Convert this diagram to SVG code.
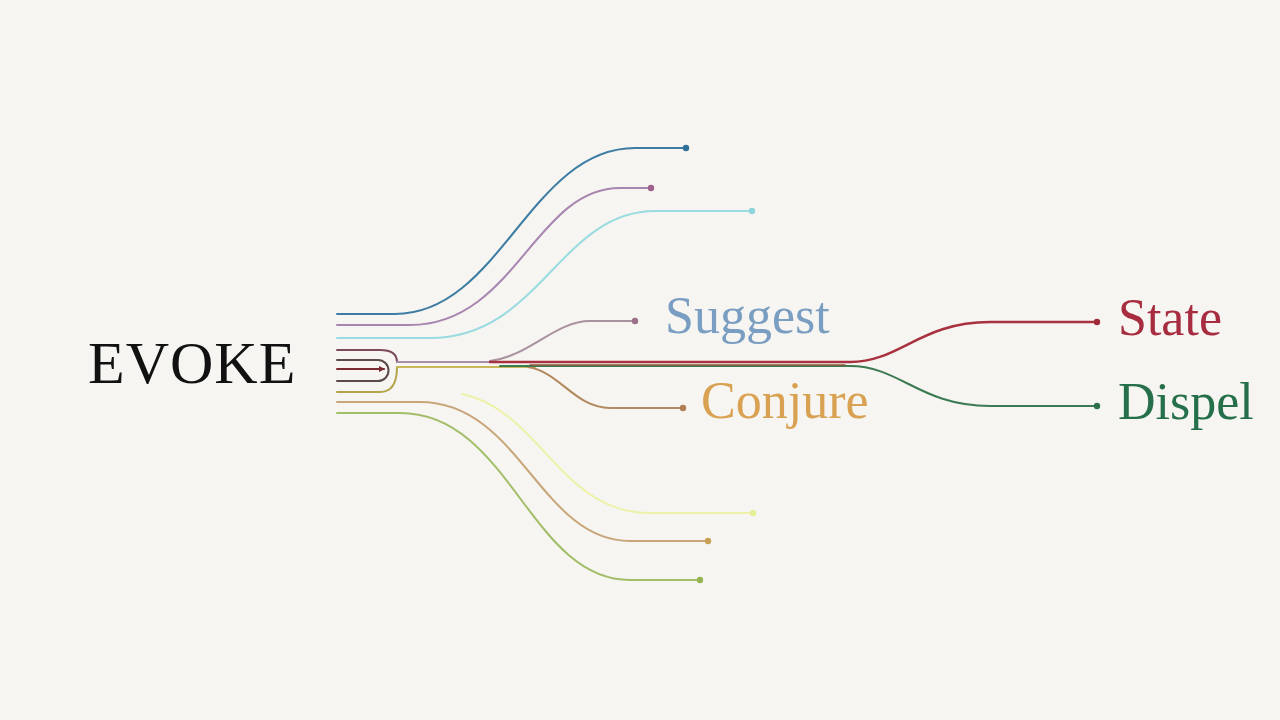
<svg xmlns="http://www.w3.org/2000/svg" width="1280" height="720" viewBox="0 0 1280 720">
<style>
.ln{fill:none;stroke-width:2;stroke-linecap:round;stroke-linejoin:round}
.lbl{font-family:"Liberation Serif","DejaVu Serif",serif;font-size:52px}
</style>
<defs>
<marker id="arr" viewBox="0 0 6 6" refX="5" refY="3" markerWidth="3" markerHeight="3" orient="auto"><path d="M0,0 L6,3 L0,6 z" fill="#7a2a30"/></marker>
</defs>
<rect width="1280" height="720" fill="#f6f5f1"/>
<g id="connectors">
<path class="ln" stroke="#3d7da3" d="M337,314 H395 C500,314 530,148 635,148 H685"/>
<path class="ln" stroke="#a886b0" d="M337,325 H410 C515,325 535,188 620,188 H651"/>
<path class="ln" stroke="#98dbe0" d="M337,338 H430 C540,338 560,211 655,211 H752"/>
<path class="ln" stroke="#c9a57a" d="M337,402 H420 C520,402 540,541 630,541 H708"/>
<path class="ln" stroke="#a3bd68" d="M337,413 H400 C510,413 530,580 630,580 H700"/>
<path class="ln" stroke="#eef1a8" d="M462,394 C540,410 560,513 650,513 H753"/>
<path class="ln" stroke="#7e4a5a" d="M337,350 H380 Q397,350 397,362"/>
<path class="ln" stroke="#b3a64a" d="M337,392 H380 Q397,392 397,367"/>
<path class="ln" stroke="#5a4a48" d="M337,360 H378 A10.5,10.5 0 0 1 378,381 H337"/>
<path class="ln" stroke="#7a2a30" d="M337,369 H384" marker-end="url(#arr)"/>
<path class="ln" stroke="#a98ea8" d="M397,362 H490"/>
<path class="ln" stroke="#c8b858" d="M397,367 H535"/>
<path class="ln" stroke="#a9919f" d="M490,361 C530,356 555,321 590,321 H634"/>
<path class="ln" stroke="#b38a60" d="M528,367 C560,372 575,408 610,408 H683"/>
<path class="ln" stroke="#3b7a52" d="M500,366 H850 C900,366 920,406 990,406 H1097"/>
<path class="ln" stroke="#8a5a3a" d="M530,365 H845" style="stroke-width:1.5"/>
<path class="ln" stroke="#a9313f" d="M490,362 H850 C900,362 920,322 990,322 H1097" style="stroke-width:2.5"/>
</g>
<g id="dots">
<circle cx="686" cy="148" r="3.2" fill="#2f6f98"/>
<circle cx="651" cy="188" r="3.2" fill="#a0608e"/>
<circle cx="752" cy="211" r="3.2" fill="#8fd3dc"/>
<circle cx="635" cy="321" r="3.2" fill="#9b7088"/>
<circle cx="683" cy="408" r="3.2" fill="#b07e52"/>
<circle cx="1097" cy="322" r="3.2" fill="#a02a3a"/>
<circle cx="1097" cy="406" r="3.2" fill="#2e704a"/>
<circle cx="708" cy="541" r="3.2" fill="#c8a055"/>
<circle cx="700" cy="580" r="3.2" fill="#93b450"/>
<circle cx="753" cy="513" r="3.2" fill="#e8ee98"/>
</g>
<g id="evoke"><text class="lbl" x="88" y="383" style="font-size:60px;letter-spacing:1px" fill="#111">EVOKE</text></g>
<g id="suggest"><text class="lbl" x="665" y="333" fill="#7a9ec2">Suggest</text></g>
<g id="conjure"><text class="lbl" x="701" y="418" fill="#d9a152">Conjure</text></g>
<g id="state"><text class="lbl" x="1118" y="335" fill="#a72c40">State</text></g>
<g id="dispel"><text class="lbl" x="1118" y="419" fill="#25704a">Dispel</text></g>
</svg>
